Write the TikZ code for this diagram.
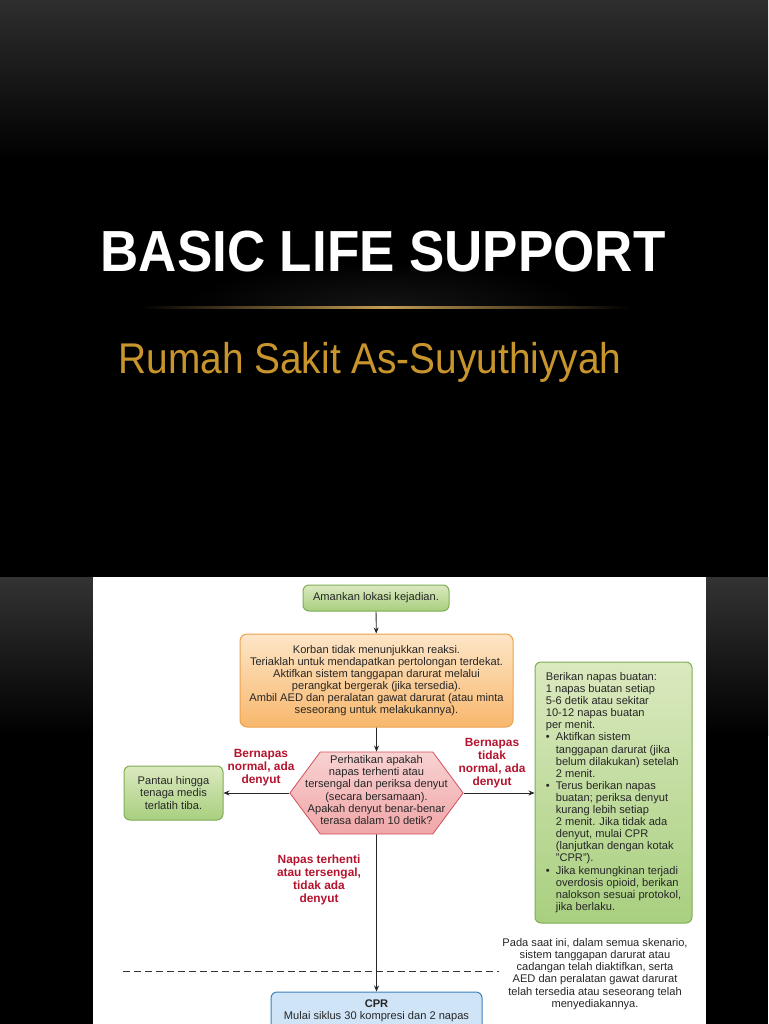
\documentclass[tikz,border=0pt]{standalone}
\usepackage{fontspec}
\setmainfont{Liberation Sans}
\newfontfamily\titlefont[FakeStretch=.913]{Liberation Sans}
\newfontfamily\subfont[FakeStretch=.903]{Liberation Sans}
\usetikzlibrary{shapes.symbols,arrows.meta}
\definecolor{goldtext}{HTML}{C8952C}
\definecolor{goldline}{HTML}{C49C55}
\definecolor{redlabel}{HTML}{B5142E}
\definecolor{greentop}{HTML}{DBE9BF}
\definecolor{greenbot}{HTML}{A8CF7F}
\definecolor{greenline}{HTML}{7FAD55}
\definecolor{orangetop}{HTML}{FDE6C8}
\definecolor{orangebot}{HTML}{F8B76C}
\definecolor{orangeline}{HTML}{EBA24F}
\definecolor{pinktop}{HTML}{F8D2D2}
\definecolor{pinkbot}{HTML}{F0A6A8}
\definecolor{pinkline}{HTML}{D2505E}
\definecolor{bluefill}{HTML}{CFE4F7}
\definecolor{blueline}{HTML}{3E80B8}
\tikzset{
	txt/.style={font=\fontsize{11.1}{12.1}\selectfont,align=center,text=black!85,inner sep=0pt},
	redtxt/.style={font=\fontsize{11.9}{13}\selectfont\bfseries,align=center,text=redlabel,inner sep=0pt},
	greenbox/.style={txt,draw=greenline,line width=1pt,rounded corners=6pt,top color=greentop,bottom color=greenbot},
	orangebox/.style={txt,draw=orangeline,line width=1pt,rounded corners=7pt,top color=orangetop,bottom color=orangebot},
	bluebox/.style={txt,draw=blueline,line width=1pt,rounded corners=6pt,fill=bluefill},
	hexbox/.style={txt,shape=signal,signal to=east and west,signal pointer angle=107,inner xsep=-15pt,draw=pinkline,line width=.8pt,top color=pinktop,bottom color=pinkbot},
	flow/.style={-{Stealth[length=6pt,width=5pt]},line width=.8pt,black!85},
}
\newcommand{\blt}{\makebox[10pt][l]{\textbullet}}
\newcommand{\ind}{\hspace*{10pt}}
\begin{document}
\begin{tikzpicture}[x=1pt,y=-1pt]
	\useasboundingbox (0,0) rectangle (768,1024);
	\clip (0,0) rectangle (768,1024);
	\fill[black] (0,0) rectangle (768,1024);
	\shade[top color=black!82,bottom color=black] (0,0) rectangle (768,160);
	\shade[top color=black!80,bottom color=black] (0,577) rectangle (768,735);
	\begin{scope}
		\clip (100,240) rectangle (660,307);
		\shade[inner color=black!92,outer color=black] (384,307) ellipse (200 and 45);
	\end{scope}
	\shade[left color=black,right color=black,middle color=goldline] (140,306) rectangle (630,308);
	\node[text=white,font=\fontsize{58}{60}\selectfont\titlefont\bfseries,inner sep=0pt](title) at (383,252) {BASIC LIFE SUPPORT};
	\node[text=goldtext,font=\fontsize{43}{46}\selectfont\subfont,inner sep=0pt](subtitle) at (370,362) {Rumah Sakit As-Suyuthiyyah};
	\fill[white] (93,577) rectangle (706,1024);
	\node[greenbox,minimum width=146pt,minimum height=26pt](aman) at (376,598) {Amankan lokasi kejadian.};
	\node[orangebox,minimum width=273pt,minimum height=93pt](korban) at (376.5,680.5) {Korban tidak menunjukkan reaksi.\\Teriaklah untuk mendapatkan pertolongan terdekat.\\Aktifkan sistem tanggapan darurat melalui\\perangkat bergerak (jika tersedia).\\Ambil AED dan peralatan gawat darurat (atau minta\\seseorang untuk melakukannya).};
	\node[hexbox,minimum width=173pt,minimum height=82pt](periksa) at (376.5,793) {Perhatikan apakah\\napas terhenti atau\\tersengal dan periksa denyut\\(secara bersamaan).\\Apakah denyut benar-benar\\terasa dalam 10 detik?\rule[-6pt]{0pt}{6pt}};
	\node[greenbox,minimum width=99pt,minimum height=54pt](pantau) at (173.5,793) {Pantau hingga\\tenaga medis\\terlatih tiba.};
	\node[greenbox,align=left,minimum width=157pt,minimum height=261pt](napas) at (613.5,792.5) {Berikan napas buatan:\\1 napas buatan setiap\\5-6 detik atau sekitar\\10-12 napas buatan\\per menit.\\\blt Aktifkan sistem\\\ind tanggapan darurat (jika\\\ind belum dilakukan) setelah\\\ind 2 menit.\\\blt Terus berikan napas\\\ind buatan; periksa denyut\\\ind kurang lebih setiap\\\ind 2 menit. Jika tidak ada\\\ind denyut, mulai CPR\\\ind (lanjutkan dengan kotak\\\ind "CPR").\\\blt Jika kemungkinan terjadi\\\ind overdosis opioid, berikan\\\ind nalokson sesuai protokol,\\\ind jika berlaku.};
	\node[bluebox,minimum width=211pt,minimum height=60pt](cpr) at (376.5,1022) {\textbf{CPR}\\Mulai siklus 30 kompresi dan 2 napas\\\mbox{}\\\mbox{}};
	\node[redtxt](normal) at (261,767.5) {Bernapas\\normal, ada\\denyut};
	\node[redtxt](tidak) at (492,763.5) {Bernapas\\tidak\\normal, ada\\denyut};
	\node[redtxt](henti) at (319,880) {Napas terhenti\\atau tersengal,\\tidak ada\\denyut};
	\node[txt](saat) at (595,974) {Pada saat ini, dalam semua skenario,\\sistem tanggapan darurat atau\\cadangan telah diaktifkan, serta\\AED dan peralatan gawat darurat\\telah tersedia atau seseorang telah\\menyediakannya.};
	\coordinate (dashl) at (123,971);
	\coordinate (dashr) at (499,971);
	\draw[dashed,line width=.7pt,black!80,dash pattern=on 7pt off 4pt] (dashl) -- (dashr);
	\draw[flow] (aman) -- (korban);
	\draw[flow] (korban) -- (periksa);
	\draw[flow] (periksa.west) -- (periksa.west -| pantau.east);
	\draw[flow] (periksa.east) -- (periksa.east -| napas.west);
	\draw[flow] (periksa) -- (cpr);
\end{tikzpicture}
\end{document}
